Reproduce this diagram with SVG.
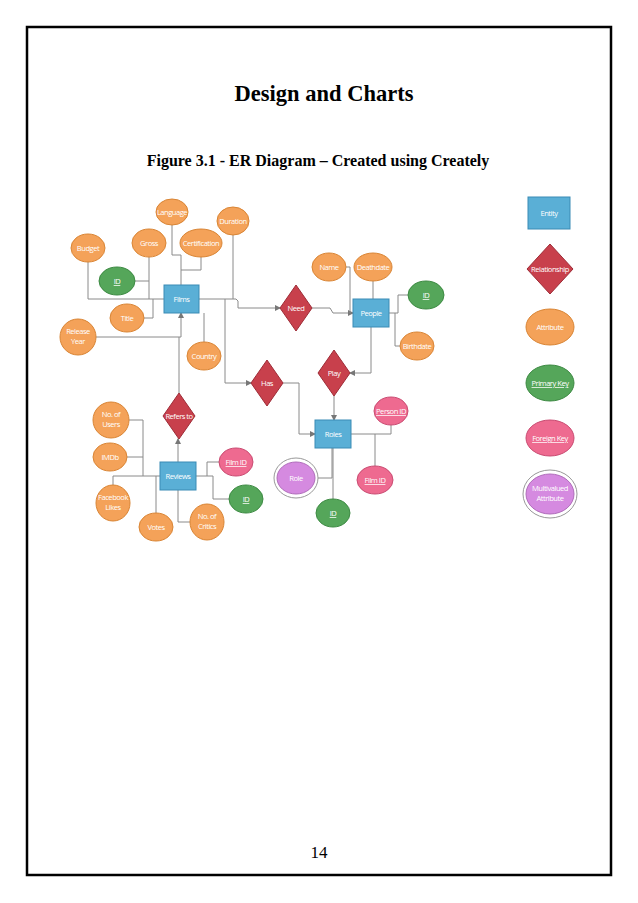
<svg xmlns="http://www.w3.org/2000/svg" width="638" height="903" viewBox="0 0 638 903">
<style>
.t{font-family:"Liberation Serif",serif;font-weight:bold;fill:#000;text-anchor:middle}
.l{font-family:"Open Sans","Liberation Sans",sans-serif;font-size:7.6px;fill:#fff;text-anchor:middle;letter-spacing:-0.5px}
.u{text-decoration:underline}
.en{fill:#5aafd6;stroke:#3a8bb5;stroke-width:1}
.re{fill:#c8404c;stroke:#9e2c37;stroke-width:1}
.at{fill:#f4a259;stroke:#d98535;stroke-width:1}
.pk{fill:#55a65a;stroke:#3d8a43;stroke-width:1}
.fk{fill:#ee6a90;stroke:#c94c72;stroke-width:1}
.mv{fill:#d58ae0;stroke:#b06dbb;stroke-width:1}
.mo{fill:#fff;stroke:#999;stroke-width:1}
#connectors path{fill:none;stroke:#8a8a8a;stroke-width:1}
</style>
<defs><marker id="a" markerWidth="6" markerHeight="6" refX="5" refY="3" orient="auto"><path d="M0,0 L6,3 L0,6 z" fill="#777"/></marker></defs>
<rect width="638" height="903" fill="#fff"/>
<rect x="27" y="27" width="584" height="848" fill="none" stroke="#000" stroke-width="2.5"/>
<text class="t" x="324" y="101" font-size="22.5">Design and Charts</text>
<text class="t" x="318" y="166" font-size="16">Figure 3.1 - ER Diagram – Created using Creately</text>
<text x="319" y="858" font-family="Liberation Serif,serif" font-size="17" text-anchor="middle">14</text>
<g id="connectors">
<path d="M88,262 V299 H164"/><path d="M149,257 V299"/><path d="M135,281 H149"/>
<path d="M144,318 H153 V299"/><path d="M172,225 V255 H181 V285"/><path d="M201,257 V270 H181"/>
<path d="M233,235 V299"/><path d="M199,299 H236 L238,301 V308 H280" marker-end="url(#a)"/>
<path d="M204,342 V313"/><path d="M225,299 V383 H251" marker-end="url(#a)"/>
<path d="M96,337 H181 V313" marker-end="url(#a)"/><path d="M179,393 V337"/>
<path d="M312,308 H330 L333,313 H353" marker-end="url(#a)"/>
<path d="M346,267 H350 V313"/><path d="M373,281 V299"/>
<path d="M389,313 H398 V295 H408"/><path d="M395,313 V346 H400"/>
<path d="M371,327 V373 H350" marker-end="url(#a)"/><path d="M334,396 V420" marker-end="url(#a)"/>
<path d="M283,383 H299 V434 H315" marker-end="url(#a)"/><path d="M351,434 H391 V425"/>
<path d="M375,466 V434"/><path d="M318,478 H332 V448"/><path d="M333,499 V448"/>
<path d="M178,462 V439" marker-end="url(#a)"/>
<path d="M129,420 H143 V476 H160"/><path d="M127,457 H143"/><path d="M113,485 V476 H143"/>
<path d="M156,513 V476"/><path d="M190,522 H178 V490"/>
<path d="M196,476 H207 V462 H219"/><path d="M207,476 H213 V499 H229"/>
</g>
<g id="films"><rect class="en" x="164" y="285" width="35" height="28"/><text class="l" x="181.5" y="302">Films</text></g>
<g id="people"><rect class="en" x="353" y="299" width="36" height="28"/><text class="l" x="371" y="316">People</text></g>
<g id="roles"><rect class="en" x="315" y="420" width="36" height="28"/><text class="l" x="333" y="437">Roles</text></g>
<g id="reviews"><rect class="en" x="160" y="462" width="36" height="28"/><text class="l" x="178" y="479">Reviews</text></g>
<g id="need"><path class="re" d="M296,285 L312,308 L296,331 L280,308 z"/><text class="l" x="296" y="311">Need</text></g>
<g id="play"><path class="re" d="M334,350 L350,373 L334,396 L318,373 z"/><text class="l" x="334" y="376">Play</text></g>
<g id="has"><path class="re" d="M267,360 L283,383 L267,406 L251,383 z"/><text class="l" x="267" y="386">Has</text></g>
<g id="refers"><path class="re" d="M179,393 L195,416 L179,439 L163,416 z"/><text class="l" x="179" y="419">Refers to</text></g>
<g id="language"><ellipse class="at" cx="172" cy="212" rx="16" ry="13"/><text class="l" x="172" y="215">Language</text></g>
<g id="duration"><ellipse class="at" cx="233" cy="221" rx="16" ry="14"/><text class="l" x="233" y="224">Duration</text></g>
<g id="budget"><ellipse class="at" cx="88" cy="248" rx="17" ry="14"/><text class="l" x="88" y="251">Budget</text></g>
<g id="gross"><ellipse class="at" cx="149" cy="243" rx="17" ry="14"/><text class="l" x="149" y="246">Gross</text></g>
<g id="cert"><ellipse class="at" cx="201" cy="243" rx="21" ry="14"/><text class="l" x="201" y="246">Certification</text></g>
<g id="filmid"><ellipse class="pk" cx="117" cy="281" rx="18" ry="14"/><text class="l u" x="117" y="284">ID</text></g>
<g id="title"><ellipse class="at" cx="127" cy="318" rx="17" ry="14"/><text class="l" x="127" y="321">Title</text></g>
<g id="ryear"><ellipse class="at" cx="78" cy="337" rx="18" ry="18"/><text class="l" x="78" y="334">Release</text><text class="l" x="78" y="344">Year</text></g>
<g id="country"><ellipse class="at" cx="204" cy="356" rx="17" ry="14"/><text class="l" x="204" y="359">Country</text></g>
<g id="name"><ellipse class="at" cx="329" cy="267" rx="17" ry="14"/><text class="l" x="329" y="270">Name</text></g>
<g id="death"><ellipse class="at" cx="373" cy="267" rx="19" ry="14"/><text class="l" x="373" y="270">Deathdate</text></g>
<g id="peopleid"><ellipse class="pk" cx="426" cy="295" rx="18" ry="14"/><text class="l u" x="426" y="298">ID</text></g>
<g id="birth"><ellipse class="at" cx="417" cy="346" rx="17" ry="14"/><text class="l" x="417" y="349">Birthdate</text></g>
<g id="personid"><ellipse class="fk" cx="391" cy="411" rx="17" ry="14"/><text class="l u" x="391" y="414">Person ID</text></g>
<g id="rfilmid"><ellipse class="fk" cx="375" cy="480" rx="18" ry="14"/><text class="l u" x="375" y="483">Film ID</text></g>
<g id="role"><ellipse class="mo" cx="296" cy="478" rx="22" ry="20"/><ellipse class="mv" cx="296" cy="478" rx="19" ry="16"/><text class="l" x="296" y="481">Role</text></g>
<g id="rolesid"><ellipse class="pk" cx="333" cy="513" rx="17" ry="14"/><text class="l u" x="333" y="516">ID</text></g>
<g id="users"><ellipse class="at" cx="111" cy="420" rx="18" ry="18"/><text class="l" x="111" y="417">No. of</text><text class="l" x="111" y="427">Users</text></g>
<g id="imdb"><ellipse class="at" cx="110" cy="457" rx="17" ry="14"/><text class="l" x="110" y="460">IMDb</text></g>
<g id="fb"><ellipse class="at" cx="113" cy="503" rx="17" ry="18"/><text class="l" x="113" y="500">Facebook</text><text class="l" x="113" y="510">Likes</text></g>
<g id="votes"><ellipse class="at" cx="156" cy="527" rx="17" ry="14"/><text class="l" x="156" y="530">Votes</text></g>
<g id="critics"><ellipse class="at" cx="207" cy="522" rx="17" ry="18"/><text class="l" x="207" y="519">No. of</text><text class="l" x="207" y="529">Critics</text></g>
<g id="revfilmid"><ellipse class="fk" cx="236" cy="462" rx="17" ry="14"/><text class="l u" x="236" y="465">Film ID</text></g>
<g id="revid"><ellipse class="pk" cx="246" cy="499" rx="17" ry="14"/><text class="l u" x="246" y="502">ID</text></g>
<g id="legend">
<g id="lg-entity"><rect class="en" x="528" y="197" width="42" height="32"/><text class="l" x="549" y="216">Entity</text></g>
<g id="lg-rel"><path class="re" d="M550,244 L573,269 L550,294 L527,269 z"/><text class="l" x="550" y="272">Relationship</text></g>
<g id="lg-attr"><ellipse class="at" cx="550" cy="327" rx="24" ry="18"/><text class="l" x="550" y="330">Attribute</text></g>
<g id="lg-pk"><ellipse class="pk" cx="550" cy="383" rx="24" ry="18"/><text class="l u" x="550" y="386">Primary Key</text></g>
<g id="lg-fk"><ellipse class="fk" cx="550" cy="438" rx="24" ry="18"/><text class="l u" x="550" y="441">Foreign Key</text></g>
<g id="lg-mv"><ellipse class="mo" cx="550" cy="494" rx="27" ry="24"/><ellipse class="mv" cx="550" cy="494" rx="24" ry="20"/><text class="l" x="550" y="491">Multivalued</text><text class="l" x="550" y="501">Attribute</text></g>
</g>
</svg>
